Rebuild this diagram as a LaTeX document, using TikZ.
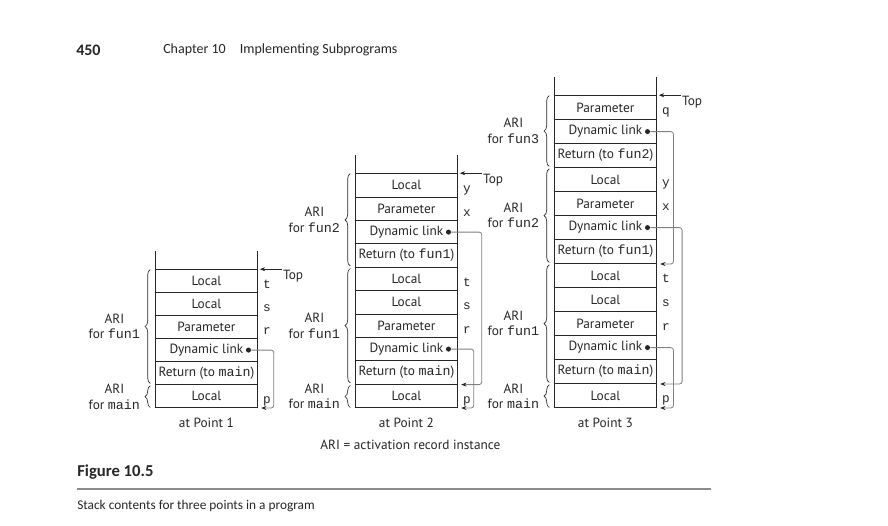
\documentclass[tikz,border=0pt]{standalone}
\usepackage{fontspec}
\setmainfont{PT Sans}
\setmonofont{Liberation Mono}
\newfontfamily\bookfont{Carlito}
\usetikzlibrary{positioning,matrix,decorations.pathreplacing,arrows.meta}

\tikzset{
  cell/.style={draw=black!85, line width=0.6pt, minimum width=76.5pt,
    minimum height=17.7pt, inner sep=0pt, outer sep=0.3pt},
  varname/.style={font=\ttfamily\fontsize{9.5}{11}\selectfont, inner sep=1pt,
    outer sep=0pt, anchor=base west, yshift=-2pt},
  stack/.style={matrix of nodes, inner sep=0pt, outer sep=0pt,
    anchor=south west, row sep=-0.6pt, column sep=3pt,
    column 1/.style={nodes={cell, minimum height=#1}},
    column 2/.style={nodes={varname}}},
  stack/.default=17.7pt,
  wall/.style={draw=black!85, line width=0.6pt},
  toparrow/.style={draw=black!85, line width=0.5pt,
    -{Stealth[length=4pt,width=3pt]}},
  toplabel/.style={anchor=north west, inner sep=0.8pt},
  dot/.style={circle, fill=black!85, inner sep=0pt, minimum size=3.8pt},
  dlink/.style={draw=black!50, line width=0.6pt, rounded corners=2pt,
    -{Stealth[length=4pt,width=3pt,black!85]}},
  ari/.style={draw=black!85, line width=0.5pt, decorate,
    decoration={brace, amplitude=4pt, raise=3.5pt}},
  arilabel/.style={midway, anchor=east, xshift=-11pt, align=center,
    inner sep=0pt},
}

\begin{document}
\begin{tikzpicture}[x=0.75pt, y=0.75pt,
    font=\fontsize{10}{11.5}\selectfont,
    every node/.append style={text=black!85}]
  \useasboundingbox (0,0) rectangle (888,-525);

  % page header
  \node[anchor=west, inner sep=0pt, font=\bookfont\bfseries\fontsize{12}{14}\selectfont]
    (pagenum) at (76,-50) {450};
  \node[anchor=west, inner sep=0pt, font=\bookfont\fontsize{10.5}{13}\selectfont]
    (chapter) at (163,-50) {Chapter 10\quad Implementing Subprograms};

  % the three stacks
  \matrix (st1) [stack=17.25pt] at (155,-408) {
    Local & t \\
    Local & s \\
    Parameter & r \\
    Dynamic link & \\
    Return (to \texttt{main}) & \\
    Local & p \\
  };
  \matrix (st2) [stack=17.55pt] at (355,-408) {
    Local & y \\
    Parameter & x \\
    Dynamic link & \\
    Return (to \texttt{fun1}) & \\
    Local & t \\
    Local & s \\
    Parameter & r \\
    Dynamic link & \\
    Return (to \texttt{main}) & \\
    Local & p \\
  };
  \matrix (st3) [stack=18pt] at (554,-408) {
    Parameter & q \\
    Dynamic link & \\
    Return (to \texttt{fun2}) & \\
    Local & y \\
    Parameter & x \\
    Dynamic link & \\
    Return (to \texttt{fun1}) & \\
    Local & t \\
    Local & s \\
    Parameter & r \\
    Dynamic link & \\
    Return (to \texttt{main}) & \\
    Local & p \\
  };

  % open tops and Top pointers
  \foreach \s in {1,2,3} {
    \draw[wall] (st\s-1-1.north west) -- ++(0,13.5pt);
    \draw[wall] (st\s-1-1.north east) -- ++(0,13.5pt);
    \coordinate (toptail\s) at ([xshift=18pt]st\s-1-1.north east);
    \draw[toparrow] (toptail\s) -- ([xshift=1.5pt]st\s-1-1.north east);
    \node[toplabel] (top\s) at (toptail\s) {Top};
  }

  % dynamic links
  \node[dot] (dl1a) at ([xshift=-7pt]st1-4-1.east) {};
  \node[dot] (dl2a) at ([xshift=-7pt]st2-3-1.east) {};
  \node[dot] (dl2b) at ([xshift=-7pt]st2-8-1.east) {};
  \node[dot] (dl3a) at ([xshift=-7pt]st3-2-1.east) {};
  \node[dot] (dl3b) at ([xshift=-7pt]st3-6-1.east) {};
  \node[dot] (dl3c) at ([xshift=-7pt]st3-11-1.east) {};
  \draw[dlink] (dl1a.east) -| ([xshift=12pt]st1-6-1.south east)
    -- ([xshift=2.5pt]st1-6-1.south east);
  \draw[dlink] (dl2a.east) -| ([xshift=18pt]st2-9-1.south east)
    -- ([xshift=2.5pt]st2-9-1.south east);
  \draw[dlink] (dl2b.east) -| ([xshift=12pt]st2-10-1.south east)
    -- ([xshift=2.5pt]st2-10-1.south east);
  \draw[dlink] (dl3a.east) -| ([xshift=12.5pt]st3-7-1.south east)
    -- ([xshift=2.5pt]st3-7-1.south east);
  \draw[dlink] (dl3b.east) -| ([xshift=19pt]st3-12-1.south east)
    -- ([xshift=2.5pt]st3-12-1.south east);
  \draw[dlink] (dl3c.east) -| ([xshift=12.5pt]st3-13-1.south east)
    -- ([xshift=2.5pt]st3-13-1.south east);

  % activation record braces
  \draw[ari] ([yshift=1.2pt]st1-5-1.south west) -- ([yshift=-0.3pt]st1-1-1.north west)
    node[arilabel] {ARI\\for \texttt{fun1}};
  \draw[ari] ([yshift=0.3pt]st1-6-1.south west) -- ([yshift=-1.2pt]st1-6-1.north west)
    node[arilabel] {ARI\\for \texttt{main}};

  \draw[ari] ([yshift=1.2pt]st2-4-1.south west) -- ([yshift=-0.3pt]st2-1-1.north west)
    node[arilabel] {ARI\\for \texttt{fun2}};
  \draw[ari] ([yshift=1.2pt]st2-9-1.south west) -- ([yshift=-1.2pt]st2-5-1.north west)
    node[arilabel] {ARI\\for \texttt{fun1}};
  \draw[ari] ([yshift=0.3pt]st2-10-1.south west) -- ([yshift=-1.2pt]st2-10-1.north west)
    node[arilabel] {ARI\\for \texttt{main}};

  \draw[ari] ([yshift=1.2pt]st3-3-1.south west) -- ([yshift=-0.3pt]st3-1-1.north west)
    node[arilabel] {ARI\\for \texttt{fun3}};
  \draw[ari] ([yshift=1.2pt]st3-7-1.south west) -- ([yshift=-1.2pt]st3-4-1.north west)
    node[arilabel] {ARI\\for \texttt{fun2}};
  \draw[ari] ([yshift=1.2pt]st3-12-1.south west) -- ([yshift=-1.2pt]st3-8-1.north west)
    node[arilabel] {ARI\\for \texttt{fun1}};
  \draw[ari] ([yshift=0.3pt]st3-13-1.south west) -- ([yshift=-1.2pt]st3-13-1.north west)
    node[arilabel] {ARI\\for \texttt{main}};

  % captions under the stacks
  \node[below=4pt of st1-6-1] (pt1) {at Point 1};
  \node[below=4pt of st2-10-1] (pt2) {at Point 2};
  \node[below=4pt of st3-13-1] (pt3) {at Point 3};
  \node[below=2pt of pt2, xshift=3pt] (arinote) {ARI = activation record instance};

  % figure caption
  \node[anchor=west, inner sep=0pt, font=\bookfont\bfseries\fontsize{12.5}{14}\selectfont]
    (figno) at (77,-472) {Figure 10.5};
  \draw[draw=black!45, line width=2.2pt] (77,-489) -- (711,-489);
  \node[anchor=west, inner sep=0pt, font=\bookfont\fontsize{10}{12}\selectfont]
    (figcap) at (77,-506) {Stack contents for three points in a program};
\end{tikzpicture}
\end{document}
